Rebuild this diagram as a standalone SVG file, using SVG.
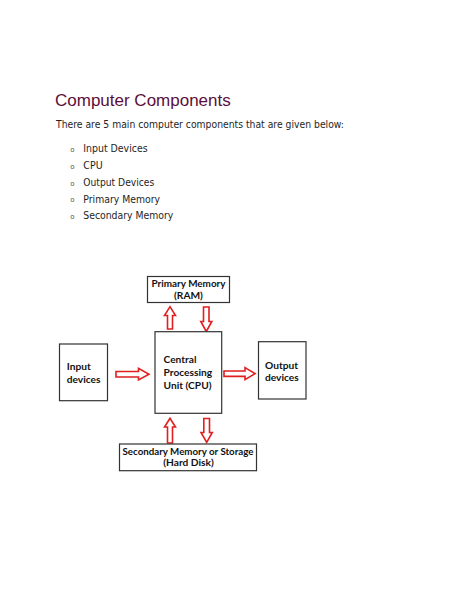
<svg xmlns="http://www.w3.org/2000/svg" width="474" height="613" viewBox="0 0 474 613">
<style>
.title{font-family:"Liberation Sans",Arial,sans-serif;font-size:17px;fill:#5a0f3a}
.body{font-family:"DejaVu Sans",sans-serif;font-size:10px;fill:#1e1e1e}
.bul{font-family:"DejaVu Sans",sans-serif;font-size:7px;fill:#555}
.box{fill:#fff;stroke:#333;stroke-width:1.2}
.lbl{font-family:Lato,"Liberation Sans",sans-serif;font-weight:bold;font-size:10.2px;fill:#111}
.arr{fill:#fff;stroke:#e01f1f;stroke-width:1.6;stroke-linejoin:miter}
</style>
<rect width="474" height="613" fill="#fff"/>
<text class="title" x="55" y="106">Computer Components</text>
<text class="body" x="56" y="127.5" textLength="288" lengthAdjust="spacingAndGlyphs">There are 5 main computer components that are given below:</text>
<g id="list">
<text class="bul" x="70.3" y="152">o</text><text class="body" x="83.3" y="152.3" textLength="64.3" lengthAdjust="spacingAndGlyphs">Input Devices</text>
<text class="bul" x="70.3" y="169">o</text><text class="body" x="83.3" y="169.3" textLength="19.3" lengthAdjust="spacingAndGlyphs">CPU</text>
<text class="bul" x="70.3" y="185.7">o</text><text class="body" x="83.3" y="186" textLength="71" lengthAdjust="spacingAndGlyphs">Output Devices</text>
<text class="bul" x="70.3" y="202.4">o</text><text class="body" x="83.3" y="202.7" textLength="76.7" lengthAdjust="spacingAndGlyphs">Primary Memory</text>
<text class="bul" x="70.3" y="219">o</text><text class="body" x="83.3" y="219.3" textLength="90" lengthAdjust="spacingAndGlyphs">Secondary Memory</text>
</g>
<g id="connectors">
<path class="arr" d="M167.5,329 V315.5 H164.5 L170,306.7 L175.5,315.5 H172.5 V329 Z"/>
<path class="arr" d="M203.5,307 V321.5 H200.8 L206.3,331.5 L211.8,321.5 H209 V307 Z"/>
<path class="arr" d="M116,371.5 H138.5 V368.3 L149,374.2 L138.5,380 V377 H116 Z"/>
<path class="arr" d="M224,371 H245 V367.6 L255,373.6 L245,379.6 V376.4 H224 Z"/>
<path class="arr" d="M167.5,443 V427 H164.5 L170,418.3 L175.5,427 H172.5 V443 Z"/>
<path class="arr" d="M203.8,418.5 V432.5 H201 L206.7,442.3 L212.3,432.5 H209.5 V418.5 Z"/>
</g>
<g id="ram">
<rect class="box" x="147.5" y="276.5" width="82" height="26"/>
<text class="lbl" x="188.5" y="287.3" text-anchor="middle" textLength="74" lengthAdjust="spacingAndGlyphs">Primary Memory</text>
<text class="lbl" x="188.5" y="299.3" text-anchor="middle">(RAM)</text>
</g>
<g id="cpu">
<rect class="box" x="155" y="331.7" width="66.7" height="81.6"/>
<text class="lbl" x="163.5" y="363.3">Central</text>
<text class="lbl" x="163.5" y="376">Processing</text>
<text class="lbl" x="163.5" y="388.7">Unit (CPU)</text>
</g>
<g id="input">
<rect class="box" x="59.5" y="344" width="48" height="56.7"/>
<text class="lbl" x="66.7" y="370">Input</text>
<text class="lbl" x="66.7" y="382.7">devices</text>
</g>
<g id="output">
<rect class="box" x="258.5" y="341.7" width="47.5" height="57.3"/>
<text class="lbl" x="265" y="368.7">Output</text>
<text class="lbl" x="265" y="381">devices</text>
</g>
<g id="secondary">
<rect class="box" x="119.5" y="444" width="137" height="26.7"/>
<text class="lbl" x="188" y="454.5" text-anchor="middle" textLength="131" lengthAdjust="spacingAndGlyphs">Secondary Memory or Storage</text>
<text class="lbl" x="188.5" y="466" text-anchor="middle">(Hard Disk)</text>
</g>
</svg>
